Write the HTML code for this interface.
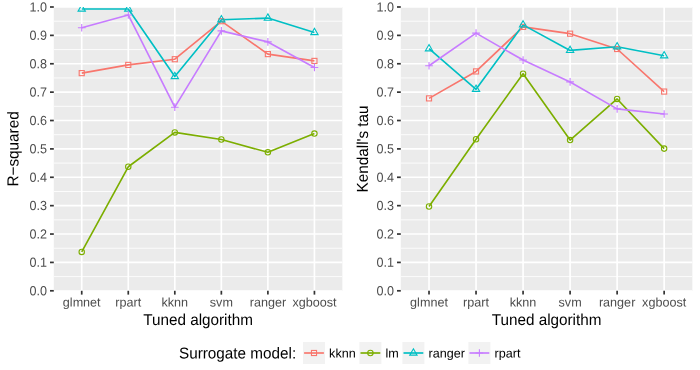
<!DOCTYPE html>
<html><head><meta charset="utf-8"><title>plot</title><style>html,body{margin:0;padding:0;background:#fff}svg{display:block}text{font-family:"Liberation Sans",sans-serif}</style></head><body>
<svg width="700" height="370" viewBox="0 0 700 370">
<rect width="700" height="370" fill="#fff"/>
<rect x="53.8" y="7.0" width="288.56" height="283.8" fill="#EBEBEB"/>
<clipPath id="c53"><rect x="53.8" y="7.0" width="288.56" height="283.8"/></clipPath>
<g clip-path="url(#c53)">
<line x1="53.8" x2="342.36" y1="276.61" y2="276.61" stroke="#fff" stroke-width="0.85"/>
<line x1="53.8" x2="342.36" y1="248.23" y2="248.23" stroke="#fff" stroke-width="0.85"/>
<line x1="53.8" x2="342.36" y1="219.85" y2="219.85" stroke="#fff" stroke-width="0.85"/>
<line x1="53.8" x2="342.36" y1="191.47" y2="191.47" stroke="#fff" stroke-width="0.85"/>
<line x1="53.8" x2="342.36" y1="163.09" y2="163.09" stroke="#fff" stroke-width="0.85"/>
<line x1="53.8" x2="342.36" y1="134.71" y2="134.71" stroke="#fff" stroke-width="0.85"/>
<line x1="53.8" x2="342.36" y1="106.33" y2="106.33" stroke="#fff" stroke-width="0.85"/>
<line x1="53.8" x2="342.36" y1="77.95" y2="77.95" stroke="#fff" stroke-width="0.85"/>
<line x1="53.8" x2="342.36" y1="49.57" y2="49.57" stroke="#fff" stroke-width="0.85"/>
<line x1="53.8" x2="342.36" y1="21.19" y2="21.19" stroke="#fff" stroke-width="0.85"/>
<line x1="53.8" x2="342.36" y1="290.80" y2="290.80" stroke="#fff" stroke-width="1.65"/>
<line x1="53.8" x2="342.36" y1="262.42" y2="262.42" stroke="#fff" stroke-width="1.65"/>
<line x1="53.8" x2="342.36" y1="234.04" y2="234.04" stroke="#fff" stroke-width="1.65"/>
<line x1="53.8" x2="342.36" y1="205.66" y2="205.66" stroke="#fff" stroke-width="1.65"/>
<line x1="53.8" x2="342.36" y1="177.28" y2="177.28" stroke="#fff" stroke-width="1.65"/>
<line x1="53.8" x2="342.36" y1="148.90" y2="148.90" stroke="#fff" stroke-width="1.65"/>
<line x1="53.8" x2="342.36" y1="120.52" y2="120.52" stroke="#fff" stroke-width="1.65"/>
<line x1="53.8" x2="342.36" y1="92.14" y2="92.14" stroke="#fff" stroke-width="1.65"/>
<line x1="53.8" x2="342.36" y1="63.76" y2="63.76" stroke="#fff" stroke-width="1.65"/>
<line x1="53.8" x2="342.36" y1="35.38" y2="35.38" stroke="#fff" stroke-width="1.65"/>
<line x1="53.8" x2="342.36" y1="7.00" y2="7.00" stroke="#fff" stroke-width="1.65"/>
<line x1="81.73" x2="81.73" y1="7.0" y2="290.8" stroke="#fff" stroke-width="1.65"/>
<line x1="128.27" x2="128.27" y1="7.0" y2="290.8" stroke="#fff" stroke-width="1.65"/>
<line x1="174.81" x2="174.81" y1="7.0" y2="290.8" stroke="#fff" stroke-width="1.65"/>
<line x1="221.35" x2="221.35" y1="7.0" y2="290.8" stroke="#fff" stroke-width="1.65"/>
<line x1="267.89" x2="267.89" y1="7.0" y2="290.8" stroke="#fff" stroke-width="1.65"/>
<line x1="314.43" x2="314.43" y1="7.0" y2="290.8" stroke="#fff" stroke-width="1.65"/>
<polyline points="81.73,73.13 128.27,64.90 174.81,59.22 221.35,21.19 267.89,54.11 314.43,60.92" fill="none" stroke="#F8766D" stroke-width="1.65" stroke-linejoin="round"/>
<polyline points="81.73,251.92 128.27,166.78 174.81,132.44 221.35,139.53 267.89,152.31 314.43,133.57" fill="none" stroke="#7CAE00" stroke-width="1.65" stroke-linejoin="round"/>
<polyline points="81.73,8.99 128.27,8.99 174.81,76.53 221.35,19.77 267.89,18.07 314.43,32.54" fill="none" stroke="#00BFC4" stroke-width="1.65" stroke-linejoin="round"/>
<polyline points="81.73,27.72 128.27,14.95 174.81,107.18 221.35,30.84 267.89,41.91 314.43,67.45" fill="none" stroke="#C77CFF" stroke-width="1.65" stroke-linejoin="round"/>
<rect x="79.18" y="70.58" width="5.10" height="5.10" fill="none" stroke="#F8766D" stroke-width="1.1"/>
<rect x="125.72" y="62.35" width="5.10" height="5.10" fill="none" stroke="#F8766D" stroke-width="1.1"/>
<rect x="172.26" y="56.67" width="5.10" height="5.10" fill="none" stroke="#F8766D" stroke-width="1.1"/>
<rect x="218.80" y="18.64" width="5.10" height="5.10" fill="none" stroke="#F8766D" stroke-width="1.1"/>
<rect x="265.34" y="51.56" width="5.10" height="5.10" fill="none" stroke="#F8766D" stroke-width="1.1"/>
<rect x="311.88" y="58.37" width="5.10" height="5.10" fill="none" stroke="#F8766D" stroke-width="1.1"/>
<circle cx="81.73" cy="251.92" r="2.71" fill="none" stroke="#7CAE00" stroke-width="1.1"/>
<circle cx="128.27" cy="166.78" r="2.71" fill="none" stroke="#7CAE00" stroke-width="1.1"/>
<circle cx="174.81" cy="132.44" r="2.71" fill="none" stroke="#7CAE00" stroke-width="1.1"/>
<circle cx="221.35" cy="139.53" r="2.71" fill="none" stroke="#7CAE00" stroke-width="1.1"/>
<circle cx="267.89" cy="152.31" r="2.71" fill="none" stroke="#7CAE00" stroke-width="1.1"/>
<circle cx="314.43" cy="133.57" r="2.71" fill="none" stroke="#7CAE00" stroke-width="1.1"/>
<path d="M81.73 4.77 L85.38 11.10 L78.07 11.10 Z" fill="none" stroke="#00BFC4" stroke-width="1.1"/>
<path d="M128.27 4.77 L131.92 11.10 L124.61 11.10 Z" fill="none" stroke="#00BFC4" stroke-width="1.1"/>
<path d="M174.81 72.31 L178.46 78.64 L171.15 78.64 Z" fill="none" stroke="#00BFC4" stroke-width="1.1"/>
<path d="M221.35 15.55 L225.01 21.88 L217.70 21.88 Z" fill="none" stroke="#00BFC4" stroke-width="1.1"/>
<path d="M267.89 13.85 L271.55 20.18 L264.24 20.18 Z" fill="none" stroke="#00BFC4" stroke-width="1.1"/>
<path d="M314.43 28.32 L318.09 34.65 L310.78 34.65 Z" fill="none" stroke="#00BFC4" stroke-width="1.1"/>
<path d="M77.89 27.72 H85.57 M81.73 23.88 V31.56" fill="none" stroke="#C77CFF" stroke-width="1.1"/>
<path d="M124.43 14.95 H132.11 M128.27 11.11 V18.79" fill="none" stroke="#C77CFF" stroke-width="1.1"/>
<path d="M170.97 107.18 H178.65 M174.81 103.34 V111.02" fill="none" stroke="#C77CFF" stroke-width="1.1"/>
<path d="M217.51 30.84 H225.19 M221.35 27.00 V34.68" fill="none" stroke="#C77CFF" stroke-width="1.1"/>
<path d="M264.05 41.91 H271.73 M267.89 38.07 V45.75" fill="none" stroke="#C77CFF" stroke-width="1.1"/>
<path d="M310.59 67.45 H318.27 M314.43 63.61 V71.29" fill="none" stroke="#C77CFF" stroke-width="1.1"/>
</g>
<line x1="49.98" x2="53.8" y1="290.80" y2="290.80" stroke="#333" stroke-width="1.7"/>
<text transform="translate(46.92,295.25) rotate(0.05) scale(1,1.04)" font-size="12.6" fill="#4D4D4D" text-anchor="end">0.0</text>
<line x1="49.98" x2="53.8" y1="262.42" y2="262.42" stroke="#333" stroke-width="1.7"/>
<text transform="translate(46.92,266.87) rotate(0.05) scale(1,1.04)" font-size="12.6" fill="#4D4D4D" text-anchor="end">0.1</text>
<line x1="49.98" x2="53.8" y1="234.04" y2="234.04" stroke="#333" stroke-width="1.7"/>
<text transform="translate(46.92,238.49) rotate(0.05) scale(1,1.04)" font-size="12.6" fill="#4D4D4D" text-anchor="end">0.2</text>
<line x1="49.98" x2="53.8" y1="205.66" y2="205.66" stroke="#333" stroke-width="1.7"/>
<text transform="translate(46.92,210.11) rotate(0.05) scale(1,1.04)" font-size="12.6" fill="#4D4D4D" text-anchor="end">0.3</text>
<line x1="49.98" x2="53.8" y1="177.28" y2="177.28" stroke="#333" stroke-width="1.7"/>
<text transform="translate(46.92,181.73) rotate(0.05) scale(1,1.04)" font-size="12.6" fill="#4D4D4D" text-anchor="end">0.4</text>
<line x1="49.98" x2="53.8" y1="148.90" y2="148.90" stroke="#333" stroke-width="1.7"/>
<text transform="translate(46.92,153.35) rotate(0.05) scale(1,1.04)" font-size="12.6" fill="#4D4D4D" text-anchor="end">0.5</text>
<line x1="49.98" x2="53.8" y1="120.52" y2="120.52" stroke="#333" stroke-width="1.7"/>
<text transform="translate(46.92,124.97) rotate(0.05) scale(1,1.04)" font-size="12.6" fill="#4D4D4D" text-anchor="end">0.6</text>
<line x1="49.98" x2="53.8" y1="92.14" y2="92.14" stroke="#333" stroke-width="1.7"/>
<text transform="translate(46.92,96.59) rotate(0.05) scale(1,1.04)" font-size="12.6" fill="#4D4D4D" text-anchor="end">0.7</text>
<line x1="49.98" x2="53.8" y1="63.76" y2="63.76" stroke="#333" stroke-width="1.7"/>
<text transform="translate(46.92,68.21) rotate(0.05) scale(1,1.04)" font-size="12.6" fill="#4D4D4D" text-anchor="end">0.8</text>
<line x1="49.98" x2="53.8" y1="35.38" y2="35.38" stroke="#333" stroke-width="1.7"/>
<text transform="translate(46.92,39.83) rotate(0.05) scale(1,1.04)" font-size="12.6" fill="#4D4D4D" text-anchor="end">0.9</text>
<line x1="49.98" x2="53.8" y1="7.00" y2="7.00" stroke="#333" stroke-width="1.7"/>
<text transform="translate(46.92,11.45) rotate(0.05) scale(1,1.04)" font-size="12.6" fill="#4D4D4D" text-anchor="end">1.0</text>
<line x1="81.73" x2="81.73" y1="290.8" y2="294.62" stroke="#333" stroke-width="1.7"/>
<text transform="translate(81.73,306.40) rotate(0.05)" font-size="12.6" fill="#4D4D4D" text-anchor="middle">glmnet</text>
<line x1="128.27" x2="128.27" y1="290.8" y2="294.62" stroke="#333" stroke-width="1.7"/>
<text transform="translate(128.27,306.40) rotate(0.05)" font-size="12.6" fill="#4D4D4D" text-anchor="middle">rpart</text>
<line x1="174.81" x2="174.81" y1="290.8" y2="294.62" stroke="#333" stroke-width="1.7"/>
<text transform="translate(174.81,306.40) rotate(0.05)" font-size="12.6" fill="#4D4D4D" text-anchor="middle">kknn</text>
<line x1="221.35" x2="221.35" y1="290.8" y2="294.62" stroke="#333" stroke-width="1.7"/>
<text transform="translate(221.35,306.40) rotate(0.05)" font-size="12.6" fill="#4D4D4D" text-anchor="middle">svm</text>
<line x1="267.89" x2="267.89" y1="290.8" y2="294.62" stroke="#333" stroke-width="1.7"/>
<text transform="translate(267.89,306.40) rotate(0.05)" font-size="12.6" fill="#4D4D4D" text-anchor="middle">ranger</text>
<line x1="314.43" x2="314.43" y1="290.8" y2="294.62" stroke="#333" stroke-width="1.7"/>
<text transform="translate(314.43,306.40) rotate(0.05)" font-size="12.6" fill="#4D4D4D" text-anchor="middle">xgboost</text>
<text transform="translate(198.08,325.00) rotate(0.05) scale(1,1.03)" font-size="15.28" fill="#000" text-anchor="middle">Tuned algorithm</text>
<text transform="translate(18.40,148.90) rotate(-89.95) scale(1,1.03)" font-size="15.28" fill="#000" text-anchor="middle">R−squared</text>
<rect x="400.8" y="7.0" width="291.56" height="283.8" fill="#EBEBEB"/>
<clipPath id="c400"><rect x="400.8" y="7.0" width="291.56" height="283.8"/></clipPath>
<g clip-path="url(#c400)">
<line x1="400.8" x2="692.36" y1="276.61" y2="276.61" stroke="#fff" stroke-width="0.85"/>
<line x1="400.8" x2="692.36" y1="248.23" y2="248.23" stroke="#fff" stroke-width="0.85"/>
<line x1="400.8" x2="692.36" y1="219.85" y2="219.85" stroke="#fff" stroke-width="0.85"/>
<line x1="400.8" x2="692.36" y1="191.47" y2="191.47" stroke="#fff" stroke-width="0.85"/>
<line x1="400.8" x2="692.36" y1="163.09" y2="163.09" stroke="#fff" stroke-width="0.85"/>
<line x1="400.8" x2="692.36" y1="134.71" y2="134.71" stroke="#fff" stroke-width="0.85"/>
<line x1="400.8" x2="692.36" y1="106.33" y2="106.33" stroke="#fff" stroke-width="0.85"/>
<line x1="400.8" x2="692.36" y1="77.95" y2="77.95" stroke="#fff" stroke-width="0.85"/>
<line x1="400.8" x2="692.36" y1="49.57" y2="49.57" stroke="#fff" stroke-width="0.85"/>
<line x1="400.8" x2="692.36" y1="21.19" y2="21.19" stroke="#fff" stroke-width="0.85"/>
<line x1="400.8" x2="692.36" y1="290.80" y2="290.80" stroke="#fff" stroke-width="1.65"/>
<line x1="400.8" x2="692.36" y1="262.42" y2="262.42" stroke="#fff" stroke-width="1.65"/>
<line x1="400.8" x2="692.36" y1="234.04" y2="234.04" stroke="#fff" stroke-width="1.65"/>
<line x1="400.8" x2="692.36" y1="205.66" y2="205.66" stroke="#fff" stroke-width="1.65"/>
<line x1="400.8" x2="692.36" y1="177.28" y2="177.28" stroke="#fff" stroke-width="1.65"/>
<line x1="400.8" x2="692.36" y1="148.90" y2="148.90" stroke="#fff" stroke-width="1.65"/>
<line x1="400.8" x2="692.36" y1="120.52" y2="120.52" stroke="#fff" stroke-width="1.65"/>
<line x1="400.8" x2="692.36" y1="92.14" y2="92.14" stroke="#fff" stroke-width="1.65"/>
<line x1="400.8" x2="692.36" y1="63.76" y2="63.76" stroke="#fff" stroke-width="1.65"/>
<line x1="400.8" x2="692.36" y1="35.38" y2="35.38" stroke="#fff" stroke-width="1.65"/>
<line x1="400.8" x2="692.36" y1="7.00" y2="7.00" stroke="#fff" stroke-width="1.65"/>
<line x1="429.02" x2="429.02" y1="7.0" y2="290.8" stroke="#fff" stroke-width="1.65"/>
<line x1="476.04" x2="476.04" y1="7.0" y2="290.8" stroke="#fff" stroke-width="1.65"/>
<line x1="523.07" x2="523.07" y1="7.0" y2="290.8" stroke="#fff" stroke-width="1.65"/>
<line x1="570.09" x2="570.09" y1="7.0" y2="290.8" stroke="#fff" stroke-width="1.65"/>
<line x1="617.12" x2="617.12" y1="7.0" y2="290.8" stroke="#fff" stroke-width="1.65"/>
<line x1="664.14" x2="664.14" y1="7.0" y2="290.8" stroke="#fff" stroke-width="1.65"/>
<polyline points="429.02,98.38 476.04,71.42 523.07,26.87 570.09,33.68 617.12,49.00 664.14,91.57" fill="none" stroke="#F8766D" stroke-width="1.65" stroke-linejoin="round"/>
<polyline points="429.02,206.51 476.04,139.25 523.07,73.69 570.09,140.10 617.12,98.95 664.14,148.62" fill="none" stroke="#7CAE00" stroke-width="1.65" stroke-linejoin="round"/>
<polyline points="429.02,48.72 476.04,89.30 523.07,24.88 570.09,50.42 617.12,46.73 664.14,55.81" fill="none" stroke="#00BFC4" stroke-width="1.65" stroke-linejoin="round"/>
<polyline points="429.02,65.75 476.04,33.11 523.07,60.07 570.09,81.92 617.12,108.88 664.14,113.99" fill="none" stroke="#C77CFF" stroke-width="1.65" stroke-linejoin="round"/>
<rect x="426.47" y="95.83" width="5.10" height="5.10" fill="none" stroke="#F8766D" stroke-width="1.1"/>
<rect x="473.49" y="68.87" width="5.10" height="5.10" fill="none" stroke="#F8766D" stroke-width="1.1"/>
<rect x="520.52" y="24.32" width="5.10" height="5.10" fill="none" stroke="#F8766D" stroke-width="1.1"/>
<rect x="567.54" y="31.13" width="5.10" height="5.10" fill="none" stroke="#F8766D" stroke-width="1.1"/>
<rect x="614.57" y="46.45" width="5.10" height="5.10" fill="none" stroke="#F8766D" stroke-width="1.1"/>
<rect x="661.59" y="89.02" width="5.10" height="5.10" fill="none" stroke="#F8766D" stroke-width="1.1"/>
<circle cx="429.02" cy="206.51" r="2.71" fill="none" stroke="#7CAE00" stroke-width="1.1"/>
<circle cx="476.04" cy="139.25" r="2.71" fill="none" stroke="#7CAE00" stroke-width="1.1"/>
<circle cx="523.07" cy="73.69" r="2.71" fill="none" stroke="#7CAE00" stroke-width="1.1"/>
<circle cx="570.09" cy="140.10" r="2.71" fill="none" stroke="#7CAE00" stroke-width="1.1"/>
<circle cx="617.12" cy="98.95" r="2.71" fill="none" stroke="#7CAE00" stroke-width="1.1"/>
<circle cx="664.14" cy="148.62" r="2.71" fill="none" stroke="#7CAE00" stroke-width="1.1"/>
<path d="M429.02 44.50 L432.67 50.83 L425.36 50.83 Z" fill="none" stroke="#00BFC4" stroke-width="1.1"/>
<path d="M476.04 85.08 L479.70 91.41 L472.39 91.41 Z" fill="none" stroke="#00BFC4" stroke-width="1.1"/>
<path d="M523.07 20.66 L526.72 26.99 L519.41 26.99 Z" fill="none" stroke="#00BFC4" stroke-width="1.1"/>
<path d="M570.09 46.20 L573.75 52.53 L566.44 52.53 Z" fill="none" stroke="#00BFC4" stroke-width="1.1"/>
<path d="M617.12 42.51 L620.77 48.84 L613.46 48.84 Z" fill="none" stroke="#00BFC4" stroke-width="1.1"/>
<path d="M664.14 51.59 L667.80 57.92 L660.49 57.92 Z" fill="none" stroke="#00BFC4" stroke-width="1.1"/>
<path d="M425.18 65.75 H432.86 M429.02 61.91 V69.59" fill="none" stroke="#C77CFF" stroke-width="1.1"/>
<path d="M472.20 33.11 H479.88 M476.04 29.27 V36.95" fill="none" stroke="#C77CFF" stroke-width="1.1"/>
<path d="M519.23 60.07 H526.91 M523.07 56.23 V63.91" fill="none" stroke="#C77CFF" stroke-width="1.1"/>
<path d="M566.25 81.92 H573.93 M570.09 78.08 V85.76" fill="none" stroke="#C77CFF" stroke-width="1.1"/>
<path d="M613.28 108.88 H620.96 M617.12 105.04 V112.72" fill="none" stroke="#C77CFF" stroke-width="1.1"/>
<path d="M660.30 113.99 H667.98 M664.14 110.15 V117.83" fill="none" stroke="#C77CFF" stroke-width="1.1"/>
</g>
<line x1="396.98" x2="400.8" y1="290.80" y2="290.80" stroke="#333" stroke-width="1.7"/>
<text transform="translate(393.92,295.25) rotate(0.05) scale(1,1.04)" font-size="12.6" fill="#4D4D4D" text-anchor="end">0.0</text>
<line x1="396.98" x2="400.8" y1="262.42" y2="262.42" stroke="#333" stroke-width="1.7"/>
<text transform="translate(393.92,266.87) rotate(0.05) scale(1,1.04)" font-size="12.6" fill="#4D4D4D" text-anchor="end">0.1</text>
<line x1="396.98" x2="400.8" y1="234.04" y2="234.04" stroke="#333" stroke-width="1.7"/>
<text transform="translate(393.92,238.49) rotate(0.05) scale(1,1.04)" font-size="12.6" fill="#4D4D4D" text-anchor="end">0.2</text>
<line x1="396.98" x2="400.8" y1="205.66" y2="205.66" stroke="#333" stroke-width="1.7"/>
<text transform="translate(393.92,210.11) rotate(0.05) scale(1,1.04)" font-size="12.6" fill="#4D4D4D" text-anchor="end">0.3</text>
<line x1="396.98" x2="400.8" y1="177.28" y2="177.28" stroke="#333" stroke-width="1.7"/>
<text transform="translate(393.92,181.73) rotate(0.05) scale(1,1.04)" font-size="12.6" fill="#4D4D4D" text-anchor="end">0.4</text>
<line x1="396.98" x2="400.8" y1="148.90" y2="148.90" stroke="#333" stroke-width="1.7"/>
<text transform="translate(393.92,153.35) rotate(0.05) scale(1,1.04)" font-size="12.6" fill="#4D4D4D" text-anchor="end">0.5</text>
<line x1="396.98" x2="400.8" y1="120.52" y2="120.52" stroke="#333" stroke-width="1.7"/>
<text transform="translate(393.92,124.97) rotate(0.05) scale(1,1.04)" font-size="12.6" fill="#4D4D4D" text-anchor="end">0.6</text>
<line x1="396.98" x2="400.8" y1="92.14" y2="92.14" stroke="#333" stroke-width="1.7"/>
<text transform="translate(393.92,96.59) rotate(0.05) scale(1,1.04)" font-size="12.6" fill="#4D4D4D" text-anchor="end">0.7</text>
<line x1="396.98" x2="400.8" y1="63.76" y2="63.76" stroke="#333" stroke-width="1.7"/>
<text transform="translate(393.92,68.21) rotate(0.05) scale(1,1.04)" font-size="12.6" fill="#4D4D4D" text-anchor="end">0.8</text>
<line x1="396.98" x2="400.8" y1="35.38" y2="35.38" stroke="#333" stroke-width="1.7"/>
<text transform="translate(393.92,39.83) rotate(0.05) scale(1,1.04)" font-size="12.6" fill="#4D4D4D" text-anchor="end">0.9</text>
<line x1="396.98" x2="400.8" y1="7.00" y2="7.00" stroke="#333" stroke-width="1.7"/>
<text transform="translate(393.92,11.45) rotate(0.05) scale(1,1.04)" font-size="12.6" fill="#4D4D4D" text-anchor="end">1.0</text>
<line x1="429.02" x2="429.02" y1="290.8" y2="294.62" stroke="#333" stroke-width="1.7"/>
<text transform="translate(429.02,306.40) rotate(0.05)" font-size="12.6" fill="#4D4D4D" text-anchor="middle">glmnet</text>
<line x1="476.04" x2="476.04" y1="290.8" y2="294.62" stroke="#333" stroke-width="1.7"/>
<text transform="translate(476.04,306.40) rotate(0.05)" font-size="12.6" fill="#4D4D4D" text-anchor="middle">rpart</text>
<line x1="523.07" x2="523.07" y1="290.8" y2="294.62" stroke="#333" stroke-width="1.7"/>
<text transform="translate(523.07,306.40) rotate(0.05)" font-size="12.6" fill="#4D4D4D" text-anchor="middle">kknn</text>
<line x1="570.09" x2="570.09" y1="290.8" y2="294.62" stroke="#333" stroke-width="1.7"/>
<text transform="translate(570.09,306.40) rotate(0.05)" font-size="12.6" fill="#4D4D4D" text-anchor="middle">svm</text>
<line x1="617.12" x2="617.12" y1="290.8" y2="294.62" stroke="#333" stroke-width="1.7"/>
<text transform="translate(617.12,306.40) rotate(0.05)" font-size="12.6" fill="#4D4D4D" text-anchor="middle">ranger</text>
<line x1="664.14" x2="664.14" y1="290.8" y2="294.62" stroke="#333" stroke-width="1.7"/>
<text transform="translate(664.14,306.40) rotate(0.05)" font-size="12.6" fill="#4D4D4D" text-anchor="middle">xgboost</text>
<text transform="translate(546.58,325.00) rotate(0.05) scale(1,1.03)" font-size="15.28" fill="#000" text-anchor="middle">Tuned algorithm</text>
<text transform="translate(367.90,148.90) rotate(-89.95) scale(1,1.03)" font-size="15.28" fill="#000" text-anchor="middle">Kendall's tau</text>
<text transform="translate(179.00,358.50) rotate(0.05) scale(1,1.03)" font-size="15.28" fill="#000" text-anchor="start">Surrogate model:</text>
<rect x="303.0" y="342" width="22" height="22" fill="#F2F2F2"/>
<line x1="304.1" x2="323.9" y1="353" y2="353" stroke="#F8766D" stroke-width="1.65"/>
<rect x="311.45" y="350.45" width="5.10" height="5.10" fill="none" stroke="#F8766D" stroke-width="1.1"/>
<text transform="translate(329.10,357.50) rotate(0.05)" font-size="12.6" fill="#000" text-anchor="start">kknn</text>
<rect x="359.4" y="342" width="22" height="22" fill="#F2F2F2"/>
<line x1="360.5" x2="380.29999999999995" y1="353" y2="353" stroke="#7CAE00" stroke-width="1.65"/>
<circle cx="370.40" cy="353.00" r="2.71" fill="none" stroke="#7CAE00" stroke-width="1.1"/>
<text transform="translate(385.50,357.50) rotate(0.05)" font-size="12.6" fill="#000" text-anchor="start">lm</text>
<rect x="402.4" y="342" width="22" height="22" fill="#F2F2F2"/>
<line x1="403.5" x2="423.29999999999995" y1="353" y2="353" stroke="#00BFC4" stroke-width="1.65"/>
<path d="M413.40 348.78 L417.05 355.11 L409.75 355.11 Z" fill="none" stroke="#00BFC4" stroke-width="1.1"/>
<text transform="translate(428.50,357.50) rotate(0.05)" font-size="12.6" fill="#000" text-anchor="start">ranger</text>
<rect x="468.4" y="342" width="22" height="22" fill="#F2F2F2"/>
<line x1="469.5" x2="489.29999999999995" y1="353" y2="353" stroke="#C77CFF" stroke-width="1.65"/>
<path d="M475.56 353.00 H483.24 M479.40 349.16 V356.84" fill="none" stroke="#C77CFF" stroke-width="1.1"/>
<text transform="translate(494.50,357.50) rotate(0.05)" font-size="12.6" fill="#000" text-anchor="start">rpart</text>
</svg>
</body></html>
